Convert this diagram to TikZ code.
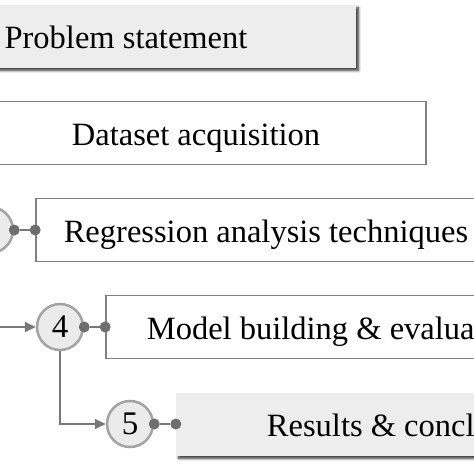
\documentclass[tikz,border=0pt]{standalone}
\usepackage{fontspec}
\setmainfont{Liberation Serif}
\usetikzlibrary{arrows.meta,shadows.blur}

\begin{document}
\begin{tikzpicture}[x=1pt,y=-1pt,
  box/.style={rectangle,minimum width=460pt,minimum height=63pt,inner sep=0pt,
    text height=29pt,text depth=4pt,font=\fontsize{32.5}{39}\selectfont},
  plainbox/.style={box,draw=black!50,line width=1.6pt,fill=white},
  greybox/.style={box,fill=black!7,blur shadow={shadow xshift=2.5pt,shadow yshift=-3pt,
    shadow blur steps=6,shadow blur radius=2.5pt,shadow opacity=80}},
  num/.style={circle,minimum size=46pt,inner sep=0pt,draw=black!36,line width=2.5pt,
    fill=black!8,font=\fontsize{33}{39}\selectfont},
  dot/.style={circle,fill=black!57,minimum size=11pt,inner sep=0pt},
  link/.style={draw=black!53,line width=1.7pt},
  flow/.style={link,-{Triangle[length=11pt,width=10pt]}}]

\useasboundingbox (0,0) rectangle (474,474);
\clip (0,0) rectangle (474,474);

\node[greybox]  (problem) at (126,36)  {Problem statement};
\node[plainbox] (dataset) at (196,133) {Dataset acquisition};
\node[plainbox] (regress) at (266,230) {Regression analysis techniques};
\node[plainbox] (model)   at (336,327) {Model building \& evaluation};
\node[greybox]  (results) at (406,424) {Results \& conclusion};

\node[num] (n3) at (-10,230) {3};
\node[num] (n4) at (60,327)  {4};
\node[num] (n5) at (130,424) {5};

\draw[flow] (n3) |- (n4);
\draw[flow] (n4) |- (n5);

\node[dot] (d3a) at (n3.east) {};
\node[dot] (d3b) at (regress.west) {};
\node[dot] (d4a) at (n4.east) {};
\node[dot] (d4b) at (model.west) {};
\node[dot] (d5a) at (n5.east) {};
\node[dot] (d5b) at (results.west) {};

\draw[link] (d3a) -- (d3b);
\draw[link] (d4a) -- (d4b);
\draw[link] (d5a) -- (d5b);

\end{tikzpicture}
\end{document}
